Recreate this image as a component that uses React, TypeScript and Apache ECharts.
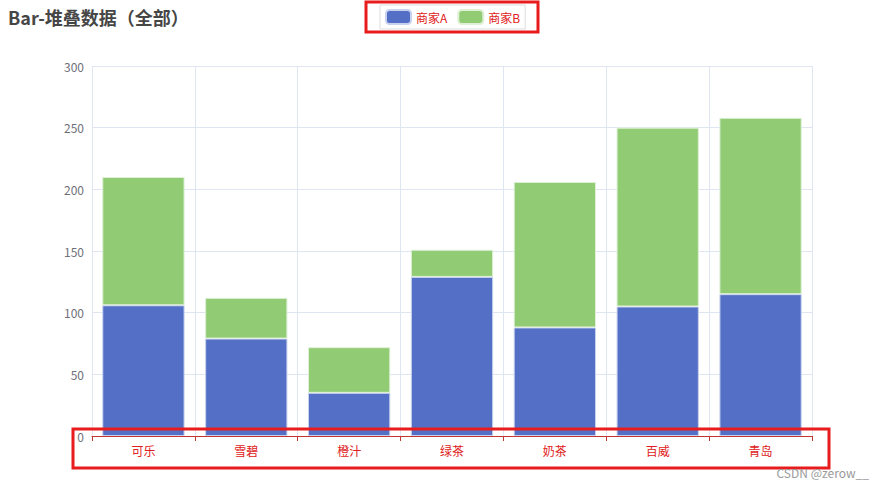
import { useRef, useEffect } from 'react';
import * as echarts from 'echarts';

const categories = ['可乐', '雪碧', '橙汁', '绿茶', '奶茶', '百威', '青岛'];
const sellerA = [106, 79, 35, 129, 88, 105, 115];
const sellerB = [104, 33, 37, 22, 118, 145, 143];
const seriesNames = ['商家A', '商家B'];

const FONT = '"Noto Sans CJK SC", "Microsoft YaHei", sans-serif';

export default function App() {
  const chartRef = useRef<HTMLDivElement>(null);

  useEffect(() => {
    if (!chartRef.current) return;
    const chart = echarts.init(chartRef.current, undefined, { renderer: 'svg' });

    chart.setOption({
      animation: false,
      textStyle: { fontFamily: FONT },
      title: {
        text: 'Bar-堆叠数据（全部）',
        left: 3,
        top: 3,
        textStyle: { fontSize: 18, fontWeight: 'bold', color: '#464646', fontFamily: FONT },
      },
      legend: {
        data: seriesNames,
        left: 380,
        top: 5,
        padding: [4, 5],
        itemWidth: 25,
        itemHeight: 14,
        itemGap: 10,
        borderColor: '#dddddd',
        borderWidth: 1,
        textStyle: { color: '#e02020', fontSize: 12, fontFamily: FONT },
      },
      grid: { left: 92, right: 71, top: 66, bottom: 53 },
      xAxis: {
        type: 'category',
        data: categories,
        axisLine: { show: true, lineStyle: { color: '#c23531' } },
        axisTick: { show: true, length: 5, lineStyle: { color: '#c23531' } },
        axisLabel: { color: '#e02020', fontSize: 12, margin: 8 },
        splitLine: { show: true, lineStyle: { color: '#e0e6f1' } },
      },
      yAxis: {
        type: 'value',
        min: 0,
        max: 300,
        interval: 50,
        axisLabel: { color: '#6e7079', fontSize: 12 },
        splitLine: { lineStyle: { color: '#e0e6f1' } },
      },
      series: [
        {
          name: seriesNames[0],
          type: 'bar',
          stack: 'total',
          barWidth: '80%',
          data: sellerA,
          itemStyle: { color: '#5470c6', borderColor: '#c8d2ee', borderWidth: 1 },
        },
        {
          name: seriesNames[1],
          type: 'bar',
          stack: 'total',
          barWidth: '80%',
          data: sellerB,
          itemStyle: { color: '#91cc75', borderColor: '#dff0d6', borderWidth: 1 },
        },
      ],
      graphic: [
        {
          type: 'rect',
          shape: { x: 366, y: 2, width: 172, height: 30 },
          style: { fill: 'none', stroke: '#e81c1c', lineWidth: 3 },
          z: 100,
        },
        {
          type: 'rect',
          shape: { x: 73, y: 429, width: 756, height: 39 },
          style: { fill: 'none', stroke: '#e81c1c', lineWidth: 3 },
          z: 100,
        },
        {
          type: 'text',
          right: 14,
          top: 466,
          style: { text: 'CSDN @zerow__', fill: '#9a9a9a', fontSize: 12, fontFamily: FONT },
          z: 100,
        },
      ],
    });

    const handleResize = () => chart.resize();
    window.addEventListener('resize', handleResize);
    return () => {
      window.removeEventListener('resize', handleResize);
      chart.dispose();
    };
  }, []);

  return (
    <div
      ref={chartRef}
      style={{ position: 'fixed', left: 0, top: 0, width: 883, height: 489, background: '#fff' }}
    />
  );
}
